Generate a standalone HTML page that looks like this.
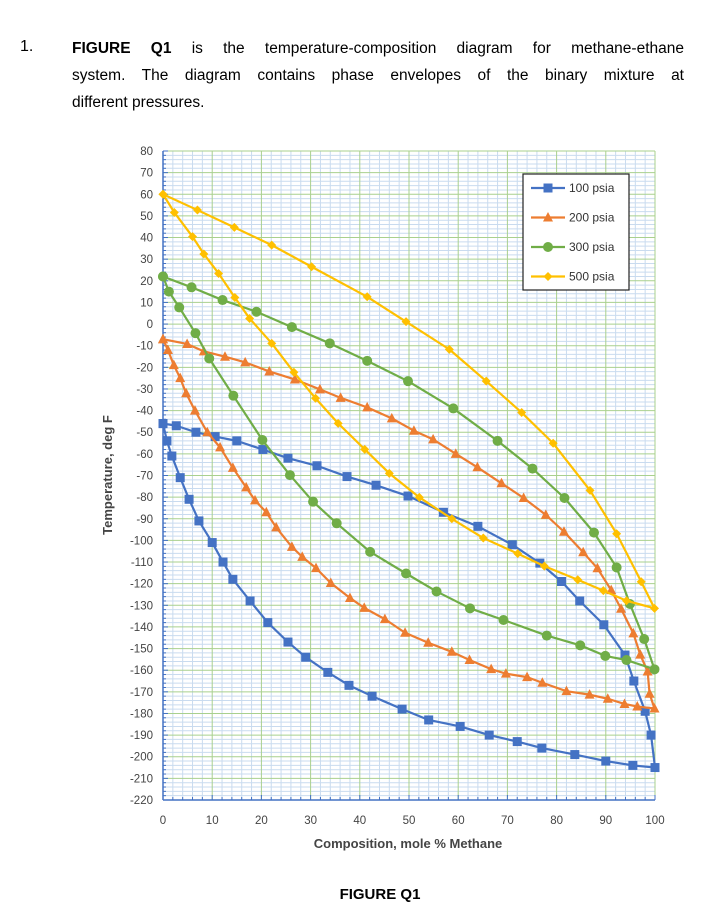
<!DOCTYPE html>
<html><head><meta charset="utf-8"><style>
body{margin:0;width:727px;height:917px;background:#fff;font-family:"Liberation Sans",Arial,sans-serif;position:relative;overflow:hidden}
.num{position:absolute;left:20px;top:38px;font-size:16px}
.para{position:absolute;left:72px;top:35px;width:612px;font-size:15.5px;line-height:27px;color:#000}
.para div{text-align:justify;text-align-last:justify;white-space:nowrap}
.para div.last{text-align-last:left}
.cap{position:absolute;left:330px;width:100px;top:886px;text-align:center;font-size:15px;font-weight:bold}
svg{position:absolute;left:0;top:0}
</style></head><body>
<div class="num">1.</div>
<div class="para"><div><b>FIGURE Q1</b> is the temperature-composition diagram for methane-ethane</div><div>system. The diagram contains phase envelopes of the binary mixture at</div><div class="last">different pressures.</div></div>
<svg id="chart" width="727" height="917"></svg>
<div class="cap">FIGURE Q1</div>
<script>
const xTicks=[0,10,20,30,40,50,60,70,80,90,100];
const yTicks=[80,70,60,50,40,30,20,10,0,-10,-20,-30,-40,-50,-60,-70,-80,-90,-100,-110,-120,-130,-140,-150,-160,-170,-180,-190,-200,-210,-220];
const seriesNames=["100 psia","200 psia","300 psia","500 psia"];
const s100x=[0,0.8,1.8,3.5,5.3,7.3,10,12.2,14.2,17.7,21.3,25.4,29,33.5,37.8,42.5,48.6,54,60.4,66.3,72,77,83.7,90,95.5,100,99.2,98,95.7,93.9,89.6,84.7,81,76.6,71,64,57,49.8,43.3,37.4,31.3,25.4,20.3,15,10.6,6.7,2.7,0];
const s100y=[-46,-54,-61,-71,-81,-91,-101,-110,-118,-128,-138,-147,-154,-161,-167,-172,-178,-183,-186,-190,-193,-196,-199,-202,-204,-205,-190,-179,-165,-153,-139,-128,-119,-110.5,-102,-93.5,-87,-79.5,-74.5,-70.5,-65.5,-62,-58,-54,-52,-50,-47,-46];
const s200x=[0,1,2.2,3.5,4.7,6.5,9,11.6,14.2,16.9,18.7,21,23,26.2,28.3,31.1,34.1,38,40.9,45.1,49.2,53.9,58.7,62.3,66.7,69.7,74,77.1,82,86.7,90.4,93.8,96.4,99.9,98.9,98.5,97,95.6,93.1,91.1,88.3,85.4,81.5,77.8,73.3,68.8,63.9,59.5,54.9,51,46.5,41.5,36.1,31.9,26.8,21.6,16.7,12.6,8.3,4.9,0];
const s200y=[-7,-12,-19,-25,-32,-40,-50,-57,-66.5,-75.5,-81.5,-87,-94,-103,-107.6,-112.8,-119.7,-126.6,-131.2,-136.4,-142.7,-147.3,-151.5,-155.3,-159.5,-161.6,-163.2,-165.8,-169.7,-171.3,-173.2,-175.6,-176.8,-177.7,-170.9,-160.6,-152.8,-143,-131.6,-123,-112.9,-105.5,-96,-88.2,-80.4,-73.6,-66.2,-60,-53.3,-49.3,-43.6,-38.5,-34.1,-30.2,-25.6,-21.9,-17.7,-15.1,-12.6,-9.2,-7];
const s300x=[0,1.2,3.3,6.6,9.4,14.3,20.2,25.8,30.5,35.3,42.1,49.4,55.6,62.4,69.2,78,84.8,89.9,94.2,99.9,97.8,94.9,92.2,87.6,81.6,75.1,68,59,49.8,41.5,33.9,26.2,19,12.1,5.8,0];
const s300y=[22,15,7.7,-4.2,-15.9,-33.1,-53.6,-69.8,-82.1,-92.1,-105.3,-115.3,-123.6,-131.4,-136.8,-144,-148.5,-153.4,-155.3,-159.6,-145.6,-129.4,-112.5,-96.4,-80.4,-66.8,-54,-39,-26.4,-17,-8.9,-1.4,5.7,11.1,17,22];
const s500x=[0,2.3,6,8.3,11.3,14.6,17.6,22.1,26.6,31,35.6,41,46,52.1,58.7,65.1,72.1,77.5,84.3,89.5,94.2,99.9,97.2,92.2,86.8,79.3,72.9,65.7,58.2,49.4,41.5,30.2,22.1,14.5,7,0];
const s500y=[60,51.6,40.4,32.4,23.4,12.3,2.6,-8.9,-22.3,-34.3,-45.9,-57.9,-69,-80.1,-90,-98.9,-106.1,-111.9,-118.2,-123.2,-127.9,-131.4,-119.1,-96.9,-76.9,-55.1,-40.9,-26.4,-11.7,1.1,12.6,26.5,36.5,44.7,52.7,60];

const X0=163,X1=655,Y0=151,Y1=800,XMIN=0,XMAX=100,YMIN=-220,YMAX=80;
const sx=v=>X0+(v-XMIN)/(XMAX-XMIN)*(X1-X0);
const sy=v=>Y1-(v-YMIN)/(YMAX-YMIN)*(Y1-Y0);
const svg=document.getElementById('chart');const NS="http://www.w3.org/2000/svg";
function mk(t,a,p){const e=document.createElementNS(NS,t);for(const k in a)e.setAttribute(k,a[k]);(p||svg).appendChild(e);return e;}
const grid=mk('g',{});


for(let v=0;v<=100;v+=2){if(v%10)mk('line',{x1:sx(v),x2:sx(v),y1:Y0,y2:Y1,stroke:'#c9dbef','stroke-width':1},grid);}
for(let v=-220;v<=80;v+=2){if(v%10)mk('line',{x1:X0,x2:X1,y1:sy(v),y2:sy(v),stroke:'#c9dbef','stroke-width':1},grid);}
xTicks.forEach(v=>mk('line',{x1:sx(v),x2:sx(v),y1:Y0,y2:Y1,stroke:'#a9d08e','stroke-width':1},grid));
yTicks.forEach(v=>mk('line',{x1:X0,x2:X1,y1:sy(v),y2:sy(v),stroke:'#a9d08e','stroke-width':1},grid));
const ax=mk('g',{});


mk('line',{x1:X0,x2:X0,y1:Y0,y2:Y1,stroke:'#4472c4','stroke-width':1.5},ax);
mk('line',{x1:X0,x2:X1,y1:Y1,y2:Y1,stroke:'#4472c4','stroke-width':1.5},ax);
for(let v=-220;v<=80;v+=2)mk('line',{x1:X0,x2:X0+(v%10?3:5),y1:sy(v),y2:sy(v),stroke:'#4472c4','stroke-width':1},ax);
for(let v=0;v<=100;v+=2)mk('line',{x1:sx(v),x2:sx(v),y1:Y1,y2:Y1-(v%10?3:5),stroke:'#4472c4','stroke-width':1},ax);
yTicks.forEach(v=>{const t=mk('text',{x:X0-10,y:sy(v)+4,'text-anchor':'end','font-size':11.5,fill:'#444'},ax);t.textContent=v;

});
xTicks.forEach(v=>{const t=mk('text',{x:sx(v),y:Y1+24,'text-anchor':'middle','font-size':11.5,fill:'#444'},ax);t.textContent=v;

});
const yt=mk('text',{x:0,y:0,transform:'translate(112,475) rotate(-90)','text-anchor':'middle','font-size':13,'font-weight':'bold',fill:'#444'});yt.textContent='Temperature, deg F';


const xt=mk('text',{x:408,y:848,'text-anchor':'middle','font-size':13,'font-weight':'bold',fill:'#444'});xt.textContent='Composition, mole % Methane';


const colors=['#4472c4','#ed7d31','#70ad47','#ffc000'];
function marker(type,x,y,c,g){
 if(type==0)mk('rect',{x:x-4.5,y:y-4.5,width:9,height:9,fill:c},g);
 else if(type==1)mk('polygon',{points:`${x},${y-5.5} ${x+5},${y+4} ${x-5},${y+4}`,fill:c},g);
 else if(type==2)mk('circle',{cx:x,cy:y,r:5,fill:c},g);
 else mk('polygon',{points:`${x},${y-4.5} ${x+4.5},${y} ${x},${y+4.5} ${x-4.5},${y}`,fill:c},g);
}
const data=[[s100x,s100y],[s200x,s200y],[s300x,s300y],[s500x,s500y]];
const snames=['series-100-psia','series-200-psia','series-300-psia','series-500-psia'];
data.forEach((d,i)=>{const g=mk('g',{});
 
 
 mk('polyline',{points:d[0].map((x,j)=>sx(x)+','+sy(d[1][j])).join(' '),fill:'none',stroke:colors[i],'stroke-width':2.2,'stroke-linejoin':'round'},g);
 d[0].forEach((x,j)=>marker(i,sx(x),sy(d[1][j]),colors[i],g));
});
const lg=mk('g',{});


mk('rect',{x:523,y:174,width:106,height:116,fill:'#fff',stroke:'#222','stroke-width':1.2},lg);
seriesNames.forEach((n,i)=>{const y=188+i*29.5;const e=mk('g',{},lg);
 
 
 mk('line',{x1:531,x2:565,y1:y,y2:y,stroke:colors[i],'stroke-width':2.2},e);
 marker(i,548,y,colors[i],e);
 const t=mk('text',{x:569,y:y+4,'font-size':12,fill:'#333'},e);t.textContent=n;});
</script>
</body></html>
